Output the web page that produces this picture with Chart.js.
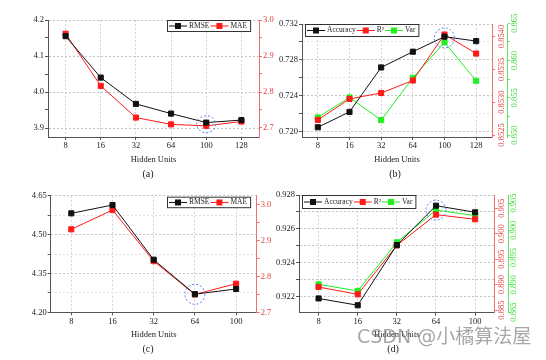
<!DOCTYPE html>
<html>
<head>
<meta charset="utf-8">
<script src="https://cdn.jsdelivr.net/npm/chart.js"></script>
<style>
  body { margin: 0; background: #fff; }
  #wrap { position: relative; width: 546px; height: 360px; overflow: hidden; }
  canvas { position: absolute; }
  #mark {
    position: absolute; left: 357px; top: 327px;
    font: 19px "DejaVu Sans", "Noto Sans CJK SC", sans-serif;
    color: rgba(130, 130, 130, 0.7); white-space: nowrap; line-height: 1;
  }
</style>
</head>
<body>
<div id="wrap">
  <canvas id="chartA" width="280" height="180" style="left:0;top:0"></canvas>
  <canvas id="chartB" width="278" height="180" style="left:268px;top:0"></canvas>
  <canvas id="chartC" width="280" height="180" style="left:0;top:180px"></canvas>
  <canvas id="chartD" width="278" height="180" style="left:268px;top:180px"></canvas>
  <div id="mark">CSDN @小橘算法屋</div>
</div>
<script>
// categories
const unitsAB = ['8', '16', '32', '64', '100', '128'];
const unitsCD = ['8', '16', '32', '64', '100'];

// (a)
const rmseA = [4.155, 4.040, 3.967, 3.940, 3.915, 3.922];
const maeA = [2.962, 2.817, 2.729, 2.710, 2.706, 2.718];
// (b)
const accB = [0.72045, 0.72217, 0.72714, 0.72890, 0.73058, 0.73009];
const r2B = [0.85273, 0.85305, 0.85314, 0.85333, 0.85403, 0.85374];
const varB = [0.85237, 0.85506, 0.85201, 0.85769, 0.86244, 0.85729];
// (c)
const rmseC = [4.582, 4.614, 4.403, 4.270, 4.290];
const maeC = [2.932, 2.986, 2.843, 2.750, 2.780];
// (d)
const accD = [0.9219, 0.9215, 0.92505, 0.92737, 0.92698];
const r2D = [0.88954, 0.88810, 0.89770, 0.90375, 0.90283];
const varD = [0.89010, 0.88890, 0.89780, 0.90370, 0.90270];

// tick labels (major) and minor tick marks
const ticksA = [3.9, 4.0, 4.1, 4.2];
const minorA = [3.95, 4.05, 4.15];
const ticksA2 = [2.7, 2.8, 2.9, 3.0];
const minorA2 = [2.75, 2.85, 2.95];
const ticksB = [0.720, 0.724, 0.728, 0.732];
const minorB = [0.722, 0.726, 0.730];
const ticksB2 = [0.8525, 0.8530, 0.8535, 0.8540];
const ticksB3 = [0.850, 0.855, 0.860, 0.865];
const minorB3 = [0.8525, 0.8575, 0.8625];
const ticksC = [4.20, 4.35, 4.50, 4.65];
const minorC = [4.275, 4.425, 4.575];
const ticksC2 = [2.7, 2.8, 2.9, 3.0];
const minorC2 = [2.75, 2.85, 2.95];
const ticksD = [0.922, 0.924, 0.926, 0.928];
const minorD = [0.923, 0.925, 0.927];
const ticksD2 = [0.885, 0.890, 0.895, 0.900, 0.905];
const ticksD3 = [0.885, 0.890, 0.895, 0.900, 0.905];

const BLACK = '#111111';
const RED = '#ff1a1a';
const GREEN = '#22ee22';
const SERIF = '"Liberation Serif", "Times New Roman", serif';

Chart.defaults.font.family = SERIF;
Chart.defaults.color = '#222';

function tickSet(major, minor) {
    return scale => {
        const all = major.map(v => ({ value: v, major: true }))
            .concat((minor || []).map(v => ({ value: v, major: false })));
        all.sort((a, b) => a.value - b.value);
        scale.ticks = all;
    };
}

function yScale(o) {
    return {
        type: 'linear',
        position: o.pos,
        min: o.min,
        max: o.max,
        afterBuildTicks: tickSet(o.major, o.minor),
        afterFit: s => { s.width = o.width; },
        ticks: {
            color: o.rotated ? 'transparent' : o.labelColor,
            font: { size: 8.5 },
            padding: 1,
            callback: (v, i, t) => t[i].major ? Number(v).toFixed(o.dec) : ''
        },
        grid: {
            drawOnChartArea: !!o.gridOn,
            color: c => (c.tick && c.tick.major) ? '#c4c4c4' : (o.minorGrid || 'transparent'),
            tickColor: o.axisColor,
            tickLength: 3
        },
        border: { color: o.axisColor, width: 1, dash: [2, 2] }
    };
}

function xScale(height, titlePad) {
    return {
        type: 'category',
        offset: true,
        afterFit: s => { s.height = height; },
        ticks: { color: '#222', font: { size: 8.5 }, padding: 1, maxRotation: 0, autoSkip: false },
        grid: { offset: false, color: '#d4d4d4', tickColor: '#555', tickLength: 3 },
        border: { color: '#555', width: 1, dash: [2, 2] },
        title: {
            display: true, text: 'Hidden Units', color: '#222',
            font: { size: 8.5 }, padding: { top: 0, bottom: titlePad }
        }
    };
}

function line(label, data, color, axis) {
    return {
        label: label,
        data: data,
        yAxisID: axis,
        borderColor: color,
        backgroundColor: color,
        pointBackgroundColor: color,
        pointBorderColor: color,
        borderWidth: 1,
        pointStyle: 'rect',
        pointRadius: 3.6,
        pointBorderWidth: 1,
        tension: 0,
        clip: false
    };
}

// legend box, dashed circle, rotated tick labels and caption
function extras(p) {
    return {
        id: 'extras',
        afterDraw(chart) {
            const ctx = chart.ctx;
            const ds = chart.data.datasets;
            ctx.save();

            (p.rotated || []).forEach(r => {
                const s = chart.scales[r.id];
                ctx.fillStyle = r.color;
                ctx.font = '8.5px ' + SERIF;
                ctx.textAlign = 'center';
                ctx.textBaseline = 'middle';
                s.ticks.forEach(t => {
                    if (!t.major) return;
                    ctx.save();
                    ctx.translate(s.left + r.dx, s.getPixelForValue(t.value));
                    ctx.rotate(-Math.PI / 2);
                    ctx.fillText(t.value.toFixed(r.dec), 0, 0);
                    ctx.restore();
                });
            });

            // highlight circle around the best point
            const i = p.circle.index;
            const cx = chart.scales.x.getPixelForValue(i);
            let cy = 0;
            ds.forEach((d, k) => { cy += chart.getDatasetMeta(k).data[i].y; });
            cy /= ds.length;
            ctx.strokeStyle = '#5a7cf0';
            ctx.lineWidth = 1;
            ctx.setLineDash([2, 2]);
            ctx.beginPath();
            ctx.ellipse(cx, cy, p.circle.rx, p.circle.ry, 0, 0, Math.PI * 2);
            ctx.stroke();
            ctx.setLineDash([]);

            // legend
            const lg = p.legend;
            ctx.font = '7.5px ' + SERIF;
            let w = 4;
            ds.forEach(d => { w += 20 + ctx.measureText(d.label).width + 1; });
            ctx.fillStyle = '#fff';
            ctx.fillRect(lg.x, lg.y, w, lg.h);
            ctx.strokeStyle = '#333';
            ctx.strokeRect(lg.x + 0.5, lg.y + 0.5, w, lg.h);
            let lx = lg.x + 2;
            const ly = lg.y + lg.h / 2 + 0.5;
            ds.forEach(d => {
                ctx.strokeStyle = d.borderColor;
                ctx.beginPath();
                ctx.moveTo(lx, ly);
                ctx.lineTo(lx + 18, ly);
                ctx.stroke();
                ctx.fillStyle = d.pointBackgroundColor;
                ctx.fillRect(lx + 6, ly - 3, 6, 6);
                ctx.fillStyle = '#222';
                ctx.textAlign = 'left';
                ctx.textBaseline = 'middle';
                ctx.fillText(d.label, lx + 20, ly);
                lx += 20 + ctx.measureText(d.label).width + 1;
            });

            // caption
            ctx.font = '10px ' + SERIF;
            ctx.fillStyle = '#222';
            ctx.textAlign = 'center';
            ctx.textBaseline = 'middle';
            ctx.fillText(p.caption.text, p.caption.x, p.caption.y);

            ctx.restore();
        }
    };
}

function makeChart(id, labels, datasets, scales, padTop, extra) {
    return new Chart(document.getElementById(id), {
        type: 'line',
        data: { labels: labels, datasets: datasets },
        options: {
            responsive: false,
            animation: false,
            layout: { padding: { top: padTop, left: 0, right: 0, bottom: 0 } },
            plugins: { legend: { display: false }, tooltip: { enabled: false } },
            scales: scales
        },
        plugins: [extras(extra)]
    });
}

// (a)
makeChart('chartA', unitsAB,
    [line('RMSE', rmseA, BLACK, 'y'), line('MAE', maeA, RED, 'y1')],
    {
        x: xScale(43, 15.6),
        y: yScale({ pos: 'left', min: 3.875, max: 4.2, major: ticksA, minor: minorA, dec: 1,
            width: 48, labelColor: '#222', axisColor: '#555', gridOn: true }),
        y1: yScale({ pos: 'right', min: 2.675, max: 3.0, major: ticksA2, minor: minorA2, dec: 1,
            width: 21, labelColor: '#e33b3b', axisColor: '#f07070' })
    },
    20,
    {
        legend: { x: 167, y: 20, h: 11 },
        circle: { index: 4, rx: 9.5, ry: 8.5 },
        caption: { text: '(a)', x: 148, y: 174 }
    });

// (b)
makeChart('chartB', unitsAB,
    [line('Accuracy', accB, BLACK, 'y'), line('R²', r2B, RED, 'y1'), line('Var', varB, GREEN, 'y2')],
    {
        x: xScale(43, 15.6),
        y: yScale({ pos: 'left', min: 0.71936, max: 0.732, major: ticksB, minor: minorB, dec: 3,
            width: 34, labelColor: '#222', axisColor: '#555', gridOn: true, minorGrid: '#e8e8e8' }),
        y1: yScale({ pos: 'right', min: 0.85247, max: 0.85419, major: ticksB2, minor: [], dec: 4,
            width: 15, labelColor: '#e33b3b', axisColor: '#f07070', rotated: true }),
        y2: yScale({ pos: 'right', min: 0.84975, max: 0.8649, major: ticksB3, minor: minorB3, dec: 3,
            width: 39, labelColor: '#3ad83a', axisColor: '#5ee65e', rotated: true })
    },
    24,
    {
        legend: { x: 37, y: 24, h: 12 },
        circle: { index: 4, rx: 10, ry: 10 },
        caption: { text: '(b)', x: 127, y: 174 },
        rotated: [
            { id: 'y1', dx: 10, dec: 4, color: '#e33b3b' },
            { id: 'y2', dx: 8, dec: 3, color: '#3ad83a' }
        ]
    });

// (c)
makeChart('chartC', unitsCD,
    [line('RMSE', rmseC, BLACK, 'y'), line('MAE', maeC, RED, 'y1')],
    {
        x: xScale(47.7, 20.6),
        y: yScale({ pos: 'left', min: 4.20, max: 4.65, major: ticksC, minor: minorC, dec: 2,
            width: 50.7, labelColor: '#222', axisColor: '#555', gridOn: true, minorGrid: '#e2e2e2' }),
        y1: yScale({ pos: 'right', min: 2.7, max: 3.026, major: ticksC2, minor: minorC2, dec: 1,
            width: 23.3, labelColor: '#e33b3b', axisColor: '#f07070' })
    },
    15.7,
    {
        legend: { x: 167, y: 16.7, h: 10.5 },
        circle: { index: 3, rx: 10, ry: 10 },
        caption: { text: '(c)', x: 148, y: 169 }
    });

// (d)
makeChart('chartD', unitsCD,
    [line('Accuracy', accD, BLACK, 'y'), line('R²', r2D, RED, 'y1'), line('Var', varD, GREEN, 'y2')],
    {
        x: xScale(47.3, 20.6),
        y: yScale({ pos: 'left', min: 0.92106, max: 0.928, major: ticksD, minor: minorD, dec: 3,
            width: 31, labelColor: '#222', axisColor: '#555', gridOn: true, minorGrid: '#c4c4c4' }),
        y1: yScale({ pos: 'right', min: 0.8845, max: 0.9076, major: ticksD2, minor: [], dec: 3,
            width: 13.3, labelColor: '#e33b3b', axisColor: '#f07070', rotated: true }),
        y2: yScale({ pos: 'right', min: 0.8849, max: 0.90647, major: ticksD3, minor: [], dec: 3,
            width: 38, labelColor: '#3ad83a', axisColor: '#5ee65e', rotated: true })
    },
    15,
    {
        legend: { x: 34, y: 15, h: 13 },
        circle: { index: 3, rx: 10, ry: 10 },
        caption: { text: '(d)', x: 125, y: 169 },
        rotated: [
            { id: 'y1', dx: 7, dec: 3, color: '#e33b3b' },
            { id: 'y2', dx: 6, dec: 3, color: '#3ad83a' }
        ]
    });
</script>
</body>
</html>
